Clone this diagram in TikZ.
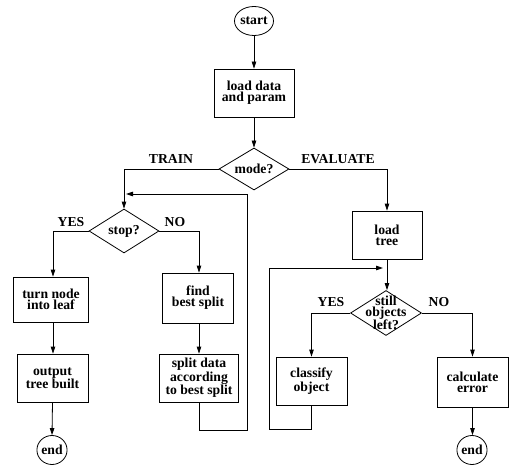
\documentclass[tikz,border=0pt]{standalone}
\usepackage{fontspec}
\setmainfont{Liberation Serif}
\usetikzlibrary{shapes.geometric,arrows.meta}
\begin{document}
\begin{tikzpicture}[x=1pt,y=-1pt,
  every node/.style={font=\fontsize{13.7}{11}\selectfont\bfseries},
  box/.style={draw,rectangle,inner sep=0pt,align=center,line width=0.8pt},
  term/.style={draw,ellipse,inner sep=0pt,line width=0.8pt},
  decision/.style={draw,diamond,inner sep=0pt,line width=0.8pt,aspect=1.6},
  lbl/.style={inner sep=0pt},
  line/.style={line width=0.8pt},
  arr/.style={line width=0.8pt,-{Triangle[length=7pt,width=4.5pt]}}]
\useasboundingbox (0,0) rectangle (519,476);
% nodes
\node[term,minimum width=39pt,minimum height=29pt] (start) at (254,21) {start};
\node[box,minimum width=80pt,minimum height=48pt] (load) at (254,93) {load data\\and param};
\node[decision,minimum width=70pt,minimum height=42pt] (mode) at (254,169) {mode?};
\node[decision,minimum width=70pt,minimum height=44pt] (stop) at (124,231) {stop?};
\node[box,minimum width=75pt,minimum height=45pt] (leaf) at (51,299.5) {turn node\\into leaf};
\node[box,minimum width=71pt,minimum height=48pt] (output) at (52.5,378) {output\\tree built};
\node[term,minimum width=30pt,minimum height=29pt] (endL) at (52,450) {end};
\node[box,minimum width=71pt,minimum height=50pt] (find) at (198,298) {find\\best split};
\node[box,minimum width=79pt,minimum height=48pt] (sdata) at (199,378) {split data\\according\\to best split};
\node[box,minimum width=70pt,minimum height=48pt] (tree) at (387,235) {load\\tree};
\node[decision,minimum width=71pt,minimum height=45pt,
  label={[lbl,align=center]center:still\\objects\\left?}] (obj) at (386,313) {};
\node[box,minimum width=71pt,minimum height=48pt] (cls) at (311.5,381) {classify\\object};
\node[box,minimum width=71pt,minimum height=50pt] (calc) at (472.5,382) {calculate\\error};
\node[term,minimum width=30pt,minimum height=29pt] (endR) at (472,450) {end};
% labels
\node[lbl] (ltrain) at (171,159) {TRAIN};
\node[lbl] (leval) at (338,159) {EVALUATE};
\node[lbl] (lyes1) at (71,222) {YES};
\node[lbl] (lno1) at (175,222) {NO};
\node[lbl] (lyes2) at (331,302) {YES};
\node[lbl] (lno2) at (439,302) {NO};
% helper coordinates
\coordinate (fbA) at (247,430);
\coordinate (fbB) at (247,194);
\coordinate (fbC) at (126,194);
\coordinate (fbD) at (269,429);
\coordinate (fbE) at (269,268);
\coordinate (fbF) at (383,268);
% connectors
\draw[arr] (start) -- (load);
\draw[arr] (load) -- (mode);
\draw[arr] (mode.west) -| (stop.north);
\draw[arr] (mode.east) -| (tree.north);
\draw[arr] (stop.west) -| ([xshift=2pt]leaf.north);
\draw[arr] (stop.east) -| ([xshift=1pt]find.north);
\draw[arr] ([xshift=2pt]leaf.south) -- ([xshift=2pt]leaf.south |- output.north);
\draw[arr] (output.south) -- (endL.north);
\draw[arr] ([xshift=1pt]find.south) -- ([xshift=1pt]find.south |- sdata.north);
\draw[arr] (sdata.south) |- (fbA) -- (fbB) -- (fbC);
\draw[arr] (tree.south) -- (tree.south |- obj.north);
\draw[arr] (obj.west) -| (cls.north);
\draw[arr] (obj.east) -| (calc.north);
\draw[arr] (calc.south) -- (calc.south |- endR.north);
\draw[arr] (cls.south) |- (fbD) -- (fbE) -- (fbF);
\end{tikzpicture}
\end{document}
